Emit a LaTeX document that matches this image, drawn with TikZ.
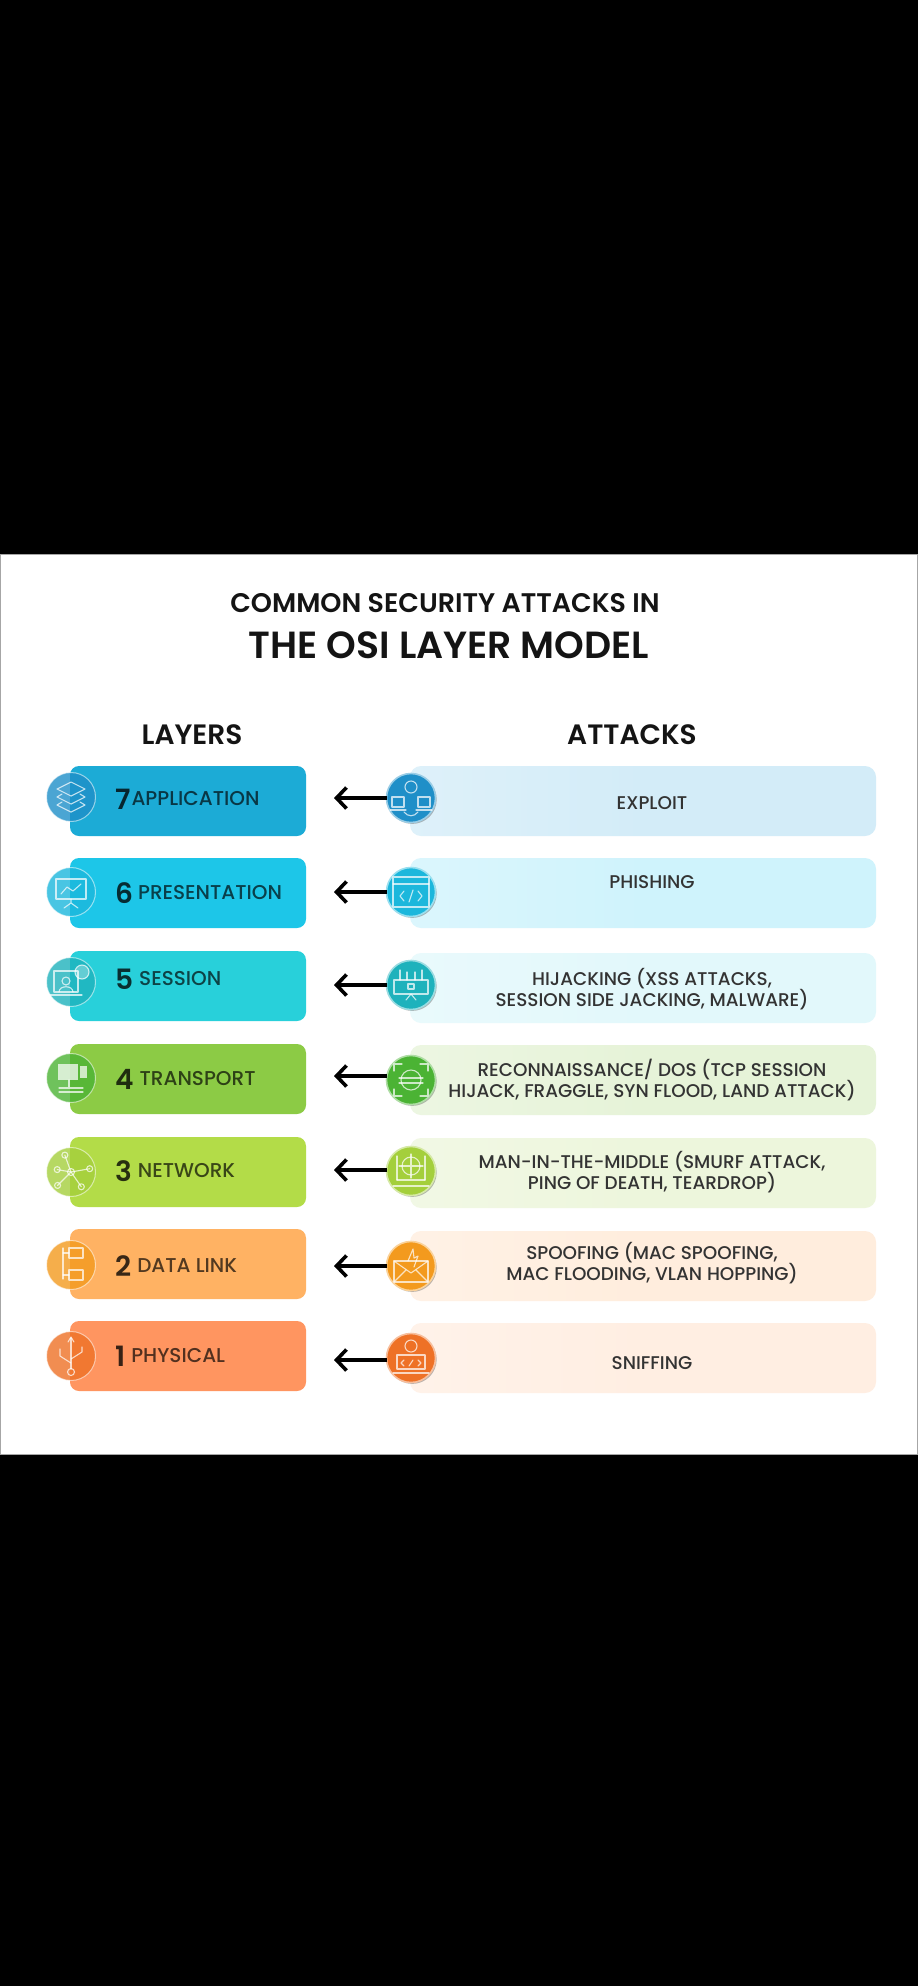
\documentclass[tikz,border=0pt]{standalone}
\usepackage{fontspec}
\setmainfont{Poppins}[UprightFont=* Medium,BoldFont=* SemiBold]
\usepackage{xcolor}
\usetikzlibrary{arrows.meta, shadows, positioning}
\definecolor{inkblack}{HTML}{141414}
\definecolor{lay7}{HTML}{1CABD6}
\definecolor{lay6}{HTML}{1DC6E8}
\definecolor{lay5}{HTML}{28D0DA}
\definecolor{lay4}{HTML}{8CCB45}
\definecolor{lay3}{HTML}{B3DC48}
\definecolor{lay2}{HTML}{FFB263}
\definecolor{lay1}{HTML}{FF9560}
\definecolor{att7}{HTML}{D3ECF8}
\definecolor{att6}{HTML}{CFF3FC}
\definecolor{att5}{HTML}{E2F8FB}
\definecolor{att4}{HTML}{E6F3D8}
\definecolor{att3}{HTML}{EDF6DC}
\definecolor{att2}{HTML}{FFEDDD}
\definecolor{att1}{HTML}{FFEEE2}
\definecolor{dot7}{HTML}{1F8FC8}
\definecolor{dot6}{HTML}{1CB7DC}
\definecolor{dot5}{HTML}{1EB2BC}
\definecolor{dot4}{HTML}{4BB334}
\definecolor{dot3}{HTML}{A4CF3C}
\definecolor{dot2}{HTML}{F39A1E}
\definecolor{dot1}{HTML}{EE7126}
\tikzset{
    laybox/.style={rectangle, rounded corners=9pt, minimum width=236pt, minimum height=70pt, inner sep=0pt},
    attbox/.style={rectangle, rounded corners=11pt, minimum width=466pt, minimum height=70pt, inner sep=0pt},
    laydot/.style={circle, minimum size=49pt, inner sep=0pt, fill opacity=.8, draw=white, draw opacity=.55, line width=1pt},
    attdot/.style={circle, minimum size=49pt, inner sep=0pt, line width=1.6pt, drop shadow={shadow xshift=1.2pt, shadow yshift=-1.4pt, fill=black!60, opacity=.45}},
    laylabel/.style={anchor=base west, inner sep=0pt},
    atttext/.style={align=center, inner sep=0pt, font=\fontsize{18.4}{21.4}\selectfont, text=black!80},
    larrow/.style={-{Straight Barb[length=10pt, width=21pt]}, line width=3.6pt, black},
    iconline/.style={draw=white, draw opacity=.72, line width=1.1pt, line join=round, line cap=round}
}
\newcommand{\iconlayers}[1]{\begin{scope}[shift={(#1)}, iconline]
    \draw (-14,-8) -- (0,-15) -- (14,-8) -- (0,-1) -- cycle;
    \draw (-9,-3) -- (-14,0) -- (0,7) -- (14,0) -- (9,-3);
    \draw (-9,5) -- (-14,8) -- (0,15) -- (14,8) -- (9,5);
\end{scope}}
\newcommand{\iconboard}[1]{\begin{scope}[shift={(#1)}, iconline]
    \draw (-15,-13) rectangle (15,7);
    \draw (-10,2) -- (-4,-5) -- (2,-1) -- (10,-8);
    \draw (0,7) -- (0,11) (-7,16) -- (0,11) -- (7,16);
\end{scope}}
\newcommand{\iconscreen}[1]{\begin{scope}[shift={(#1)}, iconline]
    \draw (-17,-11) rectangle (7,10);
    \draw (-22,13) -- (11,13);
    \draw (-5,-1) circle (4pt);
    \draw (-12,10) .. controls (-12,3) and (2,3) .. (2,10);
    \draw[fill=white, fill opacity=.3] (11,-10) circle (7pt);
\end{scope}}
\newcommand{\iconrack}[1]{\begin{scope}[shift={(#1)}, iconline]
    \fill[white, fill opacity=.72, draw opacity=0] (-13,-14) rectangle (7,2);
    \fill[white, fill opacity=.72, draw opacity=0] (9,-12) rectangle (16,0);
    \draw (-2,2) -- (-2,10) (-12,10) -- (12,10);
    \draw (-12,14) -- (12,14);
\end{scope}}
\newcommand{\iconhub}[1]{\begin{scope}[shift={(#1)}, iconline]
    \draw (0,0) circle (3.5pt);
    \foreach \a/\r in {135/19, 55/18, 350/19, 250/18, 190/14} {
        \draw (0,0) -- (\a:\r);
        \draw (\a:\r) circle (3pt);
    }
\end{scope}}
\newcommand{\iconflow}[1]{\begin{scope}[shift={(#1)}, iconline]
    \draw (-8,-17) -- (-8,14);
    \draw (-8,-12) -- (-2,-12) (-8,10) -- (-2,10);
    \draw (-2,-17) rectangle (12,-7);
    \draw (-2,5) rectangle (12,15);
\end{scope}}
\newcommand{\iconusb}[1]{\begin{scope}[shift={(#1)}, iconline]
    \draw (0,-18) -- (0,13);
    \draw (-3,-14) -- (0,-19) -- (3,-14);
    \draw (0,7) -- (-11,0) -- (-11,-7);
    \draw (0,3) -- (11,-4) -- (11,-9);
    \draw (0,16) circle (3.5pt);
\end{scope}}
\newcommand{\iconteam}[1]{\begin{scope}[shift={(#1)}, iconline]
    \draw (0,-11) circle (6pt);
    \draw (-19,-1) rectangle (-7,9) (7,-1) rectangle (19,9);
    \draw (-21,12) -- (-5,12) (5,12) -- (21,12);
    \draw (-7,14) .. controls (-3,19) and (3,19) .. (7,14);
\end{scope}}
\newcommand{\iconcode}[1]{\begin{scope}[shift={(#1)}, iconline]
    \draw (-18,-15) rectangle (18,15);
    \draw (-18,-8) -- (18,-8);
    \draw (-7,-1) -- (-11,4) -- (-7,9) (7,-1) -- (11,4) -- (7,9) (2,-2) -- (-2,10);
\end{scope}}
\newcommand{\iconpanel}[1]{\begin{scope}[shift={(#1)}, iconline]
    \draw (-17,-5) rectangle (17,9);
    \draw (-11,-15) -- (-11,-5) (-4,-13) -- (-4,-5) (4,-13) -- (4,-5) (11,-15) -- (11,-5);
    \draw (-3,-1) rectangle (3,4);
    \draw (-5,15) -- (0,9) -- (5,15);
\end{scope}}
\newcommand{\iconscan}[1]{\begin{scope}[shift={(#1)}, iconline]
    \draw (-17,-9) -- (-17,-16) -- (-9,-16) (9,-16) -- (17,-16) -- (17,-9);
    \draw (-17,9) -- (-17,16) -- (-9,16) (9,16) -- (17,16) -- (17,9);
    \draw (0,0) circle (10pt);
    \draw (-12,-2) -- (12,-2) (-12,3) -- (12,3);
\end{scope}}
\newcommand{\icontarget}[1]{\begin{scope}[shift={(#1)}, iconline]
    \draw (0,-5) circle (9pt);
    \draw (-12,-5) -- (12,-5) (0,-17) -- (0,7);
    \draw (-14,-15) -- (-14,9) (14,-15) -- (14,9);
    \draw (-18,15) -- (18,15) (-14,9) -- (14,9);
\end{scope}}
\newcommand{\iconmail}[1]{\begin{scope}[shift={(#1)}, iconline]
    \draw (-17,-5) rectangle (17,16);
    \draw (-17,-5) -- (0,7) -- (17,-5);
    \draw (-17,16) -- (-5,4) (17,16) -- (5,4);
    \draw (-3,-5) -- (2,-17) -- (3,-8) -- (7,-10) -- (3,1);
\end{scope}}
\newcommand{\iconrouter}[1]{\begin{scope}[shift={(#1)}, iconline]
    \draw (0,-12) circle (6pt);
    \draw (-14,-3) rectangle (14,11);
    \draw (-18,15) -- (18,15);
    \draw (-7,2) -- (-10,5) -- (-7,8) (7,2) -- (10,5) -- (7,8) (2,2) -- (-2,8);
\end{scope}}

\begin{document}
\begin{tikzpicture}[x=1pt, y=-1pt]
    \useasboundingbox (0,0) rectangle (918,1986);
    \fill[black] (0,0) rectangle (918,1986);
    \draw[fill=white, draw=black!35, line width=.8pt] (.5,554) rectangle (917.5,1454);

    \node[text=inkblack, inner sep=0pt, font=\bfseries\fontsize{26.9}{30}\selectfont] (title) at (445,603) {COMMON SECURITY ATTACKS IN};
    \node[text=inkblack, inner sep=0pt, font=\bfseries\fontsize{37.8}{42}\selectfont] (subtitle) at (449,645) {THE OSI LAYER MODEL};
    \node[text=inkblack, inner sep=0pt, font=\bfseries\fontsize{28}{32}\selectfont] (laysHead) at (192,735) {LAYERS};
    \node[text=inkblack, inner sep=0pt, font=\bfseries\fontsize{28}{32}\selectfont] (attsHead) at (632,735) {ATTACKS};

    \foreach \n/\ytop/\ycirc/\ylab/\gap/\word in {
        7/766/797/799/1/APPLICATION,
        6/858/892/893/5/PRESENTATION,
        5/951/982/979/6/SESSION,
        4/1044/1078/1079/6/TRANSPORT,
        3/1137/1172/1171/6/NETWORK,
        2/1229/1265/1266/6/DATA LINK,
        1/1321/1356/1356/6/PHYSICAL} {
        \node[laybox, fill=lay\n] (lay\n) at (188, \ytop+35) {};
        \node[laydot, fill=dot\n] (lc\n) at (71, \ycirc) {};
        \node[laylabel] (lab\n) at (115, \ylab+10) {\textcolor{lay\n!22!black}{\fontsize{28}{30}\selectfont\bfseries\n}\kern\gap pt\raisebox{3.4pt}{\textcolor{lay\n!32!black}{\fontsize{20}{22}\selectfont\word}}};
    }

    \foreach \n/\ytop/\ycirc/\ytext/\ytip/\word in {
        7/766/798/803/798/{EXPLOIT},
        6/858/892/882/892/{PHISHING},
        5/953/985/989/985/{HIJACKING (XSS ATTACKS,\\SESSION SIDE JACKING, MALWARE)},
        4/1045/1080/1080/1076/{RECONNAISSANCE/ DOS (TCP SESSION\\HIJACK, FRAGGLE, SYN FLOOD, LAND ATTACK)},
        3/1138/1171/1172/1170/{MAN-IN-THE-MIDDLE (SMURF ATTACK,\\PING OF DEATH, TEARDROP)},
        2/1231/1266/1263/1266/{SPOOFING (MAC SPOOFING,\\MAC FLOODING, VLAN HOPPING)},
        1/1323/1358/1363/1360/{SNIFFING}} {
        \node[attbox, left color=att\n!75!white, right color=att\n, middle color=att\n] (att\n) at (643, \ytop+35) {};
        \node[atttext] (txt\n) at (652, \ytext) {\word};
        \coordinate (tip\n) at (334, \ytip);
        \node[attdot, fill=dot\n, draw=dot\n!45!white] (ac\n) at (411, \ycirc) {};
        \draw[larrow] ([xshift=1.5pt]tip\n -| ac\n.west) -- (tip\n);
    }

    \iconlayers{lc7}
    \iconboard{lc6}
    \iconscreen{lc5}
    \iconrack{lc4}
    \iconhub{lc3}
    \iconflow{lc2}
    \iconusb{lc1}
    \iconteam{ac7}
    \iconcode{ac6}
    \iconpanel{ac5}
    \iconscan{ac4}
    \icontarget{ac3}
    \iconmail{ac2}
    \iconrouter{ac1}
\end{tikzpicture}
\end{document}
